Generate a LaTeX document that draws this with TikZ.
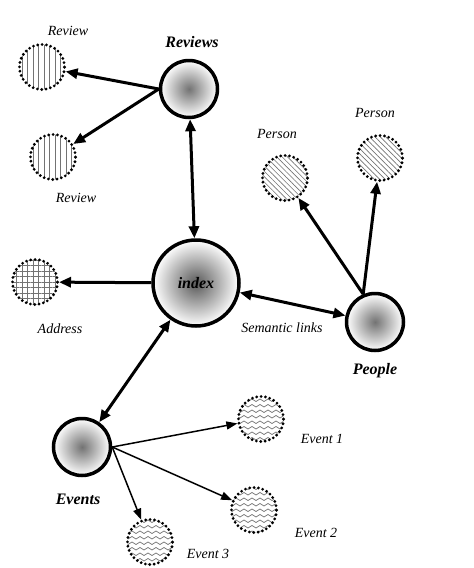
\documentclass[tikz,border=0pt]{standalone}
\usepackage{fontspec}
\setmainfont{Liberation Serif}
\usetikzlibrary{arrows.meta,patterns,patterns.meta}

\pgfdeclarepatternformonly{waves}{\pgfqpoint{-1pt}{-1pt}}{\pgfqpoint{9pt}{6pt}}{\pgfqpoint{8pt}{5.5pt}}{
  \pgfsetlinewidth{0.7pt}
  \pgfpathmoveto{\pgfqpoint{0pt}{1.5pt}}
  \pgfpathcurveto{\pgfqpoint{1.6pt}{1.5pt}}{\pgfqpoint{2.4pt}{4pt}}{\pgfqpoint{4pt}{4pt}}
  \pgfpathcurveto{\pgfqpoint{5.6pt}{4pt}}{\pgfqpoint{6.4pt}{1.5pt}}{\pgfqpoint{8pt}{1.5pt}}
  \pgfusepath{stroke}
}

\begin{document}
\begin{tikzpicture}
[
x=1pt, y=-1pt,
hub/.style={circle, draw=black, line width=3.5pt, inner sep=0pt, minimum size=57pt, shading=radial, inner color=black!55, outer color=white},
bighub/.style={hub, minimum size=86pt, inner color=black!65},
leaf/.style={circle, inner sep=0pt, outer sep=1.5pt, minimum size=45pt, pattern color=black!55,
  postaction={draw=black, line width=3.1pt, line cap=round, dash pattern=on 0pt off 4.4pt}},
reviewleaf/.style={leaf, pattern={Lines[angle=90,distance=5.5pt,line width=0.9pt]}},
addrleaf/.style={leaf, pattern={Hatch[distance=5.5pt,line width=0.8pt]}},
personleaf/.style={leaf, pattern={Lines[angle=-45,distance=3.8pt,line width=0.7pt]}},
eventleaf/.style={leaf, pattern=waves},
lbl/.style={font=\fontsize{14}{16}\selectfont\itshape},
hublbl/.style={font=\fontsize{16}{18}\selectfont\bfseries\itshape},
link/.style={line width=3pt, >={Triangle[length=12pt,width=10pt]}},
thinlink/.style={line width=1.5pt, >={Triangle[length=11pt,width=8pt]}}
]
\useasboundingbox (0,0) rectangle (474,568);

%Nodes
\node[bighub]       (index)     at (196,283)    {\fontsize{16}{18}\selectfont\bfseries\itshape index};
\node[hub]          (reviews)   at (189,89)     {};
\node[hub]          (people)    at (375,322)    {};
\node[hub]          (events)    at (82,447)     {};

\node[reviewleaf]   (review1)   at (42,67)      {};
\node[reviewleaf]   (review2)   at (53,157)     {};
\node[addrleaf]     (address)   at (35,282)     {};
\node[personleaf]   (person1)   at (285,178)    {};
\node[personleaf]   (person2)   at (380,158)    {};
\node[eventleaf]    (event1)    at (261,419)    {};
\node[eventleaf]    (event2)    at (254,510)    {};
\node[eventleaf]    (event3)    at (150,542)    {};

%Labels
\node[hublbl]       (reviews_l) at (192,42)     {Reviews};
\node[hublbl]       (people_l)  at (375,371)    {People};
\node[hublbl]       (events_l)  at (78,499)     {Events};
\node[lbl]          (review1_l) at (68,31)      {Review};
\node[lbl]          (review2_l) at (76,198)     {Review};
\node[lbl]          (address_l) at (60,329)     {Address};
\node[lbl]          (person1_l) at (277,134)    {Person};
\node[lbl]          (person2_l) at (375,113)    {Person};
\node[lbl]          (sem_l)     at (282,328)    {Semantic links};
\node[lbl]          (event1_l)  at (322,439)    {Event 1};
\node[lbl]          (event2_l)  at (316,533)    {Event 2};
\node[lbl]          (event3_l)  at (208,554)    {Event 3};

%Lines
\path[link, ->]
(reviews.west)  edge    (review1)
(reviews.west)  edge    (review2)
(index)         edge    (address)
(people.113)    edge    (person1)
(people.113)    edge    (person2);
\path[link, <->]
(reviews)       edge    (index)
(index)         edge    (people)
(index)         edge    (events);
\path[thinlink, ->]
(events.east)   edge    (event1)
(events.east)   edge    (event2)
(events.east)   edge    (event3);
\end{tikzpicture}
\end{document}
